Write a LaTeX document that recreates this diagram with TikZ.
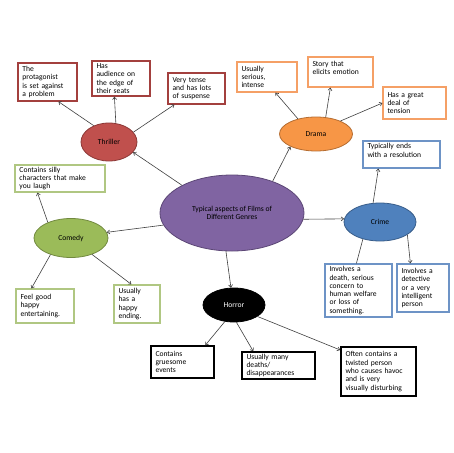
\documentclass[tikz,border=0pt]{standalone}
\usepackage{fontspec}
\setmainfont{Carlito}
\usetikzlibrary{shapes.geometric,arrows.meta,calc}
\definecolor{cfill}{HTML}{8064A2}\definecolor{cbord}{HTML}{5C4776}
\definecolor{tfill}{HTML}{C0504D}\definecolor{tbord}{HTML}{8C3836}\definecolor{tbox}{HTML}{A3403E}
\definecolor{gfill}{HTML}{9BBB59}\definecolor{gbord}{HTML}{71893F}\definecolor{gbox}{HTML}{B0C782}
\definecolor{ofill}{HTML}{F79646}\definecolor{obord}{HTML}{B66D31}\definecolor{obox}{HTML}{F5A066}
\definecolor{bfill}{HTML}{4F81BD}\definecolor{bbord}{HTML}{385D8A}\definecolor{bbox}{HTML}{6D93C6}
\definecolor{arr}{HTML}{404040}
\begin{document}
\begin{tikzpicture}[x=1pt,y=-1pt,
  every node/.style={font=\fontsize{7.6}{8.3}\selectfont},
  genre/.style={ellipse,draw,line width=0.8pt,inner sep=0pt},
  infobox/.style={rectangle,draw,line width=1.2pt,fill=white,align=left,inner xsep=4.5pt,inner ysep=1pt},
  conn/.style={draw=arr,line width=0.6pt,-{Straight Barb[length=2.5pt,width=4pt]}},
  plain/.style={draw=arr,line width=0.6pt}]
\useasboundingbox[fill=white] (0,0) rectangle (453,453);
% central
\node[genre,fill=cfill,draw=cbord,minimum width=144,minimum height=76,align=center] (c) at (232,213) {Typical aspects of Films of\\Different Genres};
% genres
\node[genre,fill=tfill,draw=tbord,minimum width=56,minimum height=38] (thr) at (109,142) {Thriller};
\node[genre,fill=gfill,draw=gbord,minimum width=74,minimum height=39] (com) at (71,238) {Comedy};
\node[genre,fill=ofill,draw=obord,minimum width=73,minimum height=34] (dra) at (316,134) {Drama};
\node[genre,fill=bfill,draw=bbord,minimum width=72,minimum height=38] (cri) at (380,222) {Crime};
\node[genre,fill=black,draw=black,text=white,minimum width=62,minimum height=34] (hor) at (234,305) {Horror};
% thriller boxes
\node[infobox,draw=tbox,minimum width=59,minimum height=38,text width=50] (t1) at (47.5,82) {The\\protagonist\\is set against\\a problem};
\node[infobox,draw=tbox,minimum width=58,minimum height=35,text width=49] (t2) at (121,78.5) {Has\\audience on\\the edge of\\their seats};
\node[infobox,draw=tbox,minimum width=57,minimum height=31,text width=48] (t3) at (196.5,88.5) {Very tense\\and has lots\\of suspense};
% comedy boxes
\node[infobox,draw=gbox,minimum width=90,minimum height=27,text width=81] (c1) at (60,178.5) {Contains silly\\characters that make\\you laugh};
\node[infobox,draw=gbox,minimum width=58,minimum height=34,text width=49] (c2) at (45,306) {Feel good\\happy\\entertaining.};
\node[infobox,draw=gbox,minimum width=46,minimum height=38,text width=37] (c3) at (137,304) {Usually\\has a\\happy\\ending.};
% drama boxes
\node[infobox,draw=obox,minimum width=60,minimum height=30,text width=51] (d1) at (267,77) {Usually\\serious,\\intense};
\node[infobox,draw=obox,minimum width=65,minimum height=30,text width=56] (d2) at (340.5,72) {Story that\\elicits emotion\\\mbox{}};
\node[infobox,draw=obox,minimum width=63,minimum height=32,text width=54] (d3) at (414.5,103) {Has a great\\deal of\\tension};
% crime boxes
\node[infobox,draw=bbox,minimum width=77,minimum height=27,text width=68] (k1) at (401.5,154.5) {Typically ends\\with a resolution\\\mbox{}};
\node[infobox,draw=bbox,minimum width=67,minimum height=53,text width=58] (k2) at (358.5,290.5) {Involves a\\death, serious\\concern to\\human welfare\\or loss of\\something.};
\node[infobox,draw=bbox,minimum width=52,minimum height=48,text width=43] (k3) at (423,288) {Involves a\\detective\\or a very\\intelligent\\person};
% horror boxes
\node[infobox,draw=black,line width=1.5pt,minimum width=63,minimum height=32,text width=54] (h1) at (182.5,362) {Contains\\gruesome\\events};
\node[infobox,draw=black,line width=1.5pt,minimum width=73,minimum height=27,text width=64] (h2) at (278.5,365.5) {Usually many\\deaths/\\disappearances};
\node[infobox,draw=black,line width=1.5pt,minimum width=75,minimum height=49,text width=66] (h3) at (378.5,371.5) {Often contains a\\twisted person\\who causes havoc\\and is very\\visually disturbing};
% connectors from centre
\draw[conn] (c.151) -- (thr.337);
\draw[conn] (c.190) -- (com.9);
\draw[conn] (c.38) -- (dra.206);
\draw[conn] (c.355) -- (cri.175);
\draw[conn] (c.261) -- (hor.100);
% thriller
\draw[conn] (thr.133) -- ([xshift=41pt]t1.south west);
\draw[conn] (thr.70) -- ([xshift=23pt]t2.south west);
\draw[conn] (thr.22) -- ([xshift=7pt]t3.south west);
% comedy
\draw[conn] (com.146) -- ([xshift=23pt]c1.south west);
\draw[conn] (com.219) -- ([xshift=16pt]c2.north west);
\draw[conn] (com.322) -- ([xshift=18pt]c3.north west);
% drama
\draw[conn] (dra.140) -- ([xshift=39pt]d1.south west);
\draw[conn] (dra.60) -- ([xshift=23pt]d2.south west);
\draw[conn] (dra.28) -- (d3.west);
% crime
\draw[conn] (cri.110) -- ([xshift=16pt]k1.south west);
\draw[plain] (cri.225) -- ([xshift=32pt]k2.north west);
\draw[conn] (cri.335) -- ([xshift=14pt]k3.north west);
% horror
\draw[conn] (hor.241) -- ([xshift=55pt]h1.north west);
\draw[conn] (hor.278) -- ([xshift=12pt]h2.north west);
\draw[conn] (hor.334) -- ([yshift=21.5pt]h3.west);
\end{tikzpicture}
\end{document}
